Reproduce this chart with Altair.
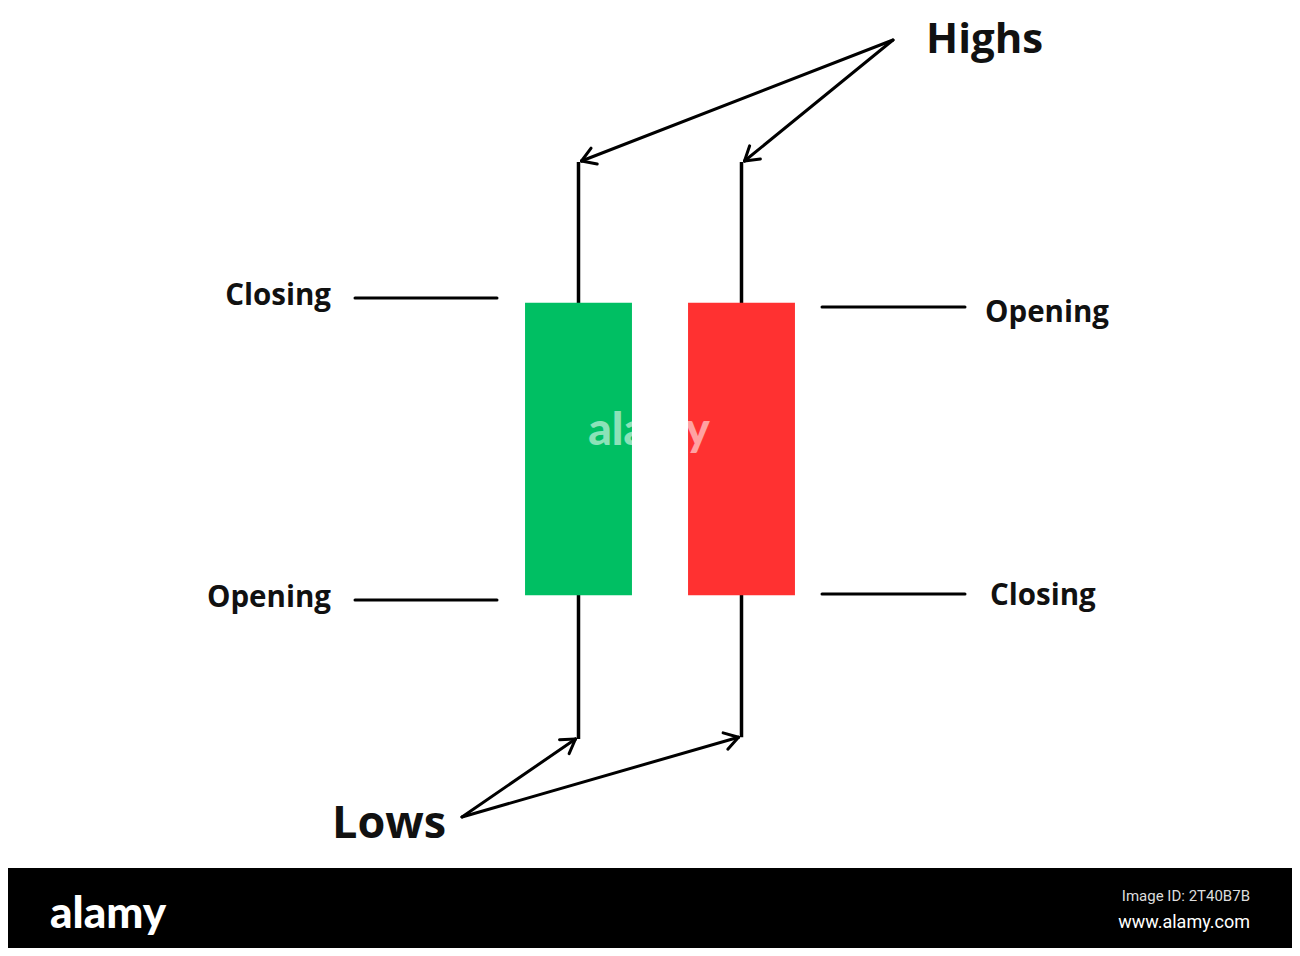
import altair as alt
import pandas as pd
import numpy as np

# ---- candle data (price units) ----
candles = ["Bullish", "Bearish"]
index = [1, 2]
opens = [24.9, 75.6]
closes = [75.6, 24.9]
highs = [100.0, 100.0]
lows = [0.0, 0.3]
colors = ["#00BF63", "#FF3131"]
half_body = 0.328

# ---- annotation texts ----
level_labels_left = ["Closing", "Opening"]
level_labels_right = ["Opening", "Closing"]
title_high = "Highs"
title_low = "Lows"

# ---- scale mapping (image pixel <-> data units) ----
PX0, PXU = 578.5, 163.0
PY0, PYU = 739.0, 5.77
W, H = 1284, 940

def xi(px):
    return 1 + (px - PX0) / PXU

def yp(py):
    return (PY0 - py) / PYU

def x_px(i):
    return PX0 + PXU * (i - 1)

def y_px(p):
    return PY0 - PYU * p

XD = [xi(8), xi(8 + W)]
YD = [yp(8 + H), yp(8)]
xs = alt.Scale(domain=XD, nice=False, zero=False)
ys = alt.Scale(domain=YD, nice=False, zero=False)

cdf = pd.DataFrame({"candle": candles, "idx": index, "open": opens,
                    "close": closes, "high": highs, "low": lows})

band = alt.Chart(pd.DataFrame({"a": [XD[0]], "b": [XD[1]], "c": [yp(868)], "d": [YD[0]]})).mark_rect(
    color="black").encode(
    x=alt.X("a:Q", scale=xs, axis=None), x2="b:Q",
    y=alt.Y("c:Q", scale=ys, axis=None), y2="d:Q")

wicks = alt.Chart(cdf).mark_rule(color="black", strokeWidth=3.5).encode(
    x=alt.X("idx:Q", scale=xs, axis=None),
    y=alt.Y("low:Q", scale=ys, axis=None), y2="high:Q")

bodies = alt.Chart(cdf).transform_calculate(
    x0=f"datum.idx - {half_body}", x1=f"datum.idx + {half_body}").mark_rect().encode(
    x=alt.X("x0:Q", scale=xs, axis=None), x2="x1:Q",
    y=alt.Y("open:Q", scale=ys, axis=None), y2="close:Q",
    color=alt.Color("candle:N", scale=alt.Scale(domain=candles, range=colors), legend=None))

# ---- segments: level lines + arrows ----
segs = []
for (a, b, y) in [(355, 497, 298), (355, 497, 600), (822, 965, 307), (822, 965, 594)]:
    segs.append((a, y, b, y))

def arrow(v, t, L=16, ang=32):
    v = np.array(v, float); t = np.array(t, float)
    d = (t - v) / np.linalg.norm(t - v)
    out = [(v[0], v[1], t[0], t[1])]
    for s in (1, -1):
        a = np.radians(ang) * s
        r = np.array([d[0] * np.cos(a) - d[1] * np.sin(a), d[0] * np.sin(a) + d[1] * np.cos(a)])
        h = t - L * r
        out.append((t[0], t[1], h[0], h[1]))
    return out

hv = (893, 40)
lv = (462, 817)
for i, hi, lo in zip(index, highs, lows):
    segs += arrow(hv, (x_px(i) + 3, y_px(hi) - 1))
    segs += arrow(lv, (x_px(i) - 3, y_px(lo) + 0))

sdf = pd.DataFrame([{"x": xi(a), "y": yp(b), "x2": xi(c), "y2": yp(d)} for a, b, c, d in segs])
lines = alt.Chart(sdf).mark_rule(color="black", strokeWidth=3, strokeCap="round").encode(
    x=alt.X("x:Q", scale=xs, axis=None), x2="x2:Q",
    y=alt.Y("y:Q", scale=ys, axis=None), y2="y2:Q")

FONT = "Open Sans"
def text_layer(df, align, size, weight="bold", color="#111111", font=FONT, opacity=1.0):
    return alt.Chart(df).mark_text(align=align, baseline="alphabetic", fontSize=size,
                                   fontWeight=weight, color=color, font=font, opacity=opacity).encode(
        x=alt.X("x:Q", scale=xs, axis=None), y=alt.Y("y:Q", scale=ys, axis=None), text="t:N")

left_df = pd.DataFrame({"t": level_labels_left, "x": [xi(331), xi(331)], "y": [yp(305), yp(607)]})
right_df = pd.DataFrame({"t": level_labels_right, "x": [xi(985), xi(990)], "y": [yp(322), yp(605)]})
high_df = pd.DataFrame({"t": [title_high], "x": [xi(926)], "y": [yp(53)]})
low_df = pd.DataFrame({"t": [title_low], "x": [xi(332)], "y": [yp(838)]})

LOGO = "Lato"
logo_df = pd.DataFrame({"t": ["alamy"], "x": [xi(50)], "y": [yp(928)]})
id_df = pd.DataFrame({"t": ["Image ID: 2T40B7B"], "x": [xi(1250)], "y": [yp(901)]})
www_df = pd.DataFrame({"t": ["www.alamy.com"], "x": [xi(1250)], "y": [yp(928)]})
wm_df = pd.DataFrame({"t": ["alamy"], "x": [xi(649)], "y": [yp(445)]})

chart = alt.layer(
    band, wicks, bodies, lines,
    text_layer(left_df, "right", 29.5),
    text_layer(right_df, "left", 29.5),
    text_layer(high_df, "left", 42),
    text_layer(low_df, "left", 45),
    text_layer(logo_df, "left", 44, weight=900, color="white", font=LOGO),
    text_layer(id_df, "right", 15, weight="normal", color="#dddddd", font="Roboto"),
    text_layer(www_df, "right", 18, weight="normal", color="white", font="Roboto"),
    text_layer(wm_df, "center", 46, weight=900, color="white", font=LOGO, opacity=0.55),
).properties(
    width=W, height=H, padding=0,
    autosize=alt.AutoSizeParams(type="fit", contains="padding"),
).configure_view(stroke=None)

chart.save("out.html", embed_options={"renderer": "svg", "actions": False})
